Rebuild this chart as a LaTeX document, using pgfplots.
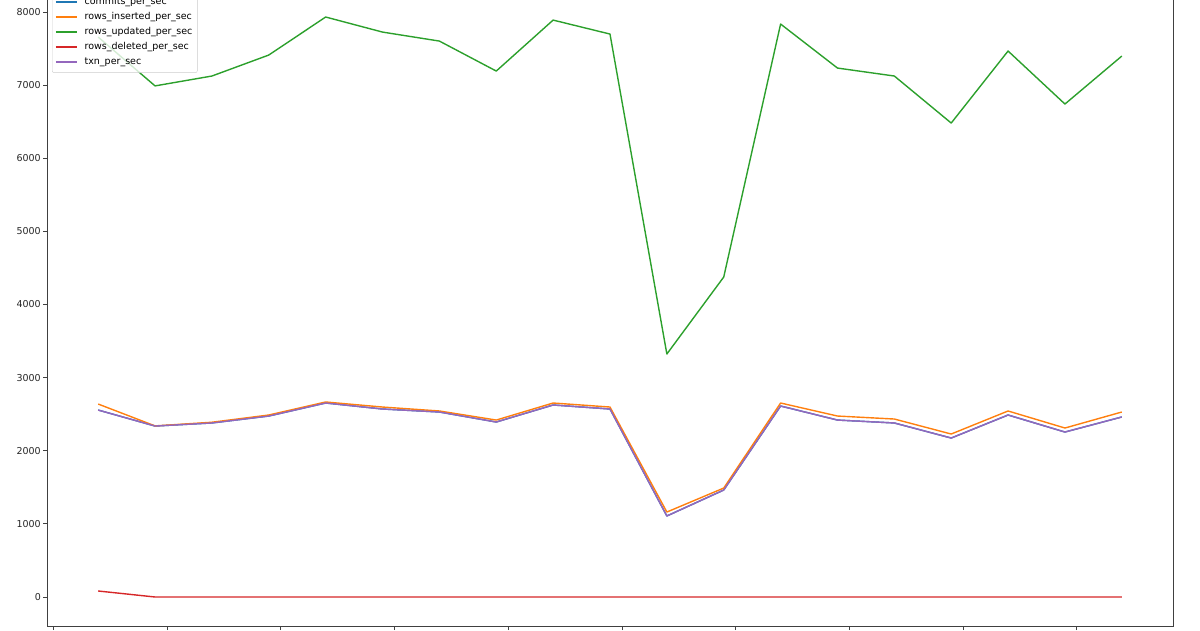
\documentclass[border=0pt]{standalone}
\usepackage{fontspec}
\setmainfont{DejaVu Sans}
\usepackage{pgfplots}
\usepackage{pgfplotstable}
\pgfplotsset{compat=1.18}
\definecolor{c0}{HTML}{1F77B4}
\definecolor{c1}{HTML}{FF7F0E}
\definecolor{c2}{HTML}{2CA02C}
\definecolor{c3}{HTML}{D62728}
\definecolor{c4}{HTML}{9467BD}
\pgfplotstableread{
x commits inserted updated deleted txn
0 2557 2639 7658 82 2557
1 2338 2340 6990 0 2338
2 2380 2390 7125 0 2380
3 2475 2489 7412 0 2475
4 2653 2667 7932 0 2653
5 2571 2598 7726 0 2571
6 2530 2544 7603 0 2530
7 2393 2420 7193 0 2393
8 2626 2653 7890 0 2626
9 2571 2598 7699 0 2571
10 1108 1162 3323 0 1108
11 1463 1490 4376 0 1463
12 2612 2653 7836 0 2612
13 2420 2475 7234 0 2420
14 2380 2434 7125 0 2380
15 2174 2229 6482 0 2174
16 2489 2544 7467 0 2489
17 2256 2311 6742 0 2256
18 2462 2530 7398 0 2462
}\data
\begin{document}
\begin{tikzpicture}[x=1pt,y=1pt]
\begin{scope}
\clip (0,0) rectangle (1200,630);
\begin{axis}[
  at={(47pt,4pt)}, anchor=south west,
  scale only axis, width=1126pt, height=638pt,
  xmin=-0.9, xmax=18.9, ymin=-396.6, ymax=8329,
  xtick={-0.79,1.21,3.21,5.21,7.21,9.21,11.21,13.21,15.21,17.21},
  xticklabels={},
  ytick={0,1000,2000,3000,4000,5000,6000,7000,8000},
  tick align=outside, xtick pos=lower, ytick pos=left,
  major tick length=4pt,
  tick style={black!75, line width=0.8pt},
  axis line style={black!75, line width=0.8pt},
  /pgf/number format/assume math mode=true,
  /pgf/number format/set thousands separator={},
  yticklabel style={font=\fontsize{9.5}{11}\selectfont, text=black!85, inner sep=2pt},
  legend cell align=left,
  legend image code/.code={\draw[#1, line width=1.4pt] (0pt,0pt) -- (21pt,0pt);},
  legend style={at={(axis description cs:0.00444,0.867)}, anchor=south west,
    draw=black!20, fill=white, fill opacity=0.8, text opacity=1, draw opacity=1,
    rounded corners=2pt, inner sep=3pt,
    font=\fontsize{9.5}{11}\selectfont,
    nodes={inner sep=2pt, text height=8pt, text depth=3pt},
    /tikz/every odd column/.append style={column sep=5pt}},
  every axis plot/.append style={line width=1.4pt, line join=round},
]
\addplot[c0, line width=1.4pt, no markers] table[x=x, y=commits] {\data};
\addlegendentry{commits\_per\_sec}
\addplot[c1, line width=1.4pt, no markers] table[x=x, y=inserted] {\data};
\addlegendentry{rows\_inserted\_per\_sec}
\addplot[c2, line width=1.4pt, no markers] table[x=x, y=updated] {\data};
\addlegendentry{rows\_updated\_per\_sec}
\addplot[c3, line width=1.4pt, no markers] table[x=x, y=deleted] {\data};
\addlegendentry{rows\_deleted\_per\_sec}
\addplot[c4, line width=1.4pt, no markers] table[x=x, y=txn] {\data};
\addlegendentry{txn\_per\_sec}
\end{axis}
\end{scope}
\pgfresetboundingbox
\path[use as bounding box] (0,0) rectangle (1200,630);
\end{tikzpicture}
\end{document}
